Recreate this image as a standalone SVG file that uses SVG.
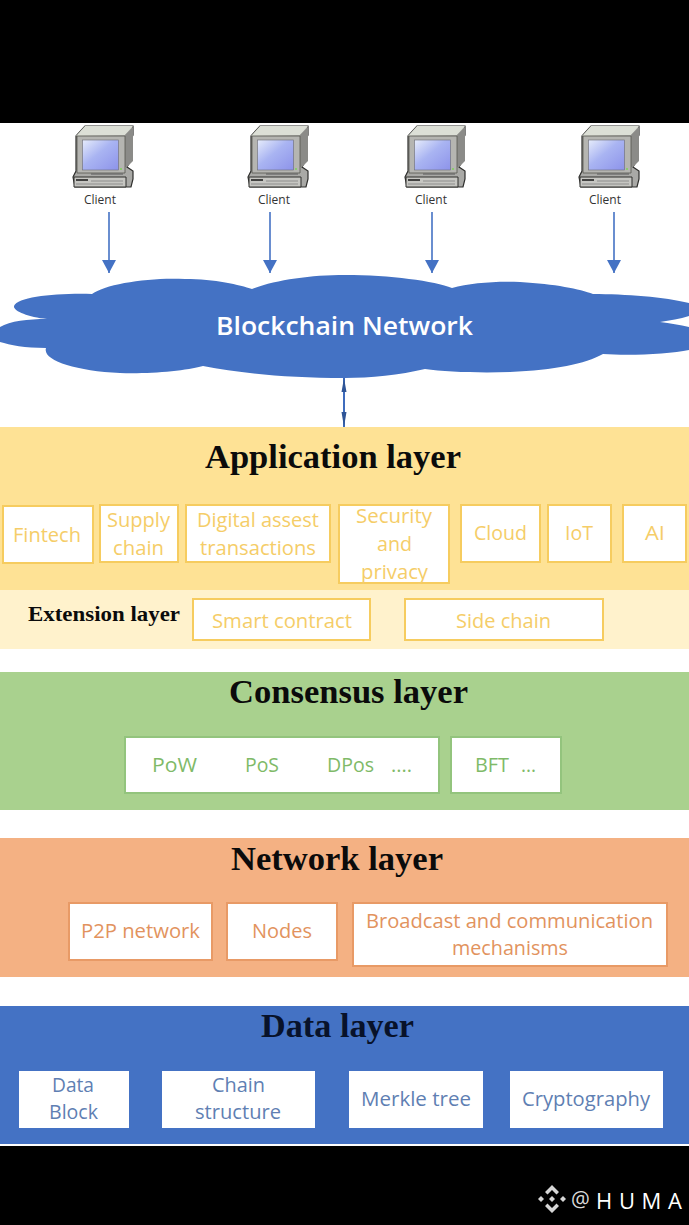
<svg xmlns="http://www.w3.org/2000/svg" xmlns:xlink="http://www.w3.org/1999/xlink" width="689" height="1225" viewBox="0 0 689 1225">
<style>
text{font-family:"Open Sans","Liberation Sans",sans-serif}
.title{font-family:"Liberation Serif",serif;font-weight:700;fill:#0b0b0b;font-size:33px}
.box{fill:#fff;stroke-width:2}
.y .box{stroke:#f6cc5f}.y .t{fill:#f5cd68}
.g .box{stroke:#93c47d}.g .t{fill:#7fba68}
.o .box{stroke:#e89a66}.o .t{fill:#e2935e}
.b .box{stroke:#fff}.b .t{fill:#5f7fb3}
.t{font-size:20px}
.client{font-size:12px;fill:#333}
.wire{stroke:#4472c4;stroke-width:1.6;fill:none}
</style>
<defs>
<linearGradient id="scr" x1="0" y1="0" x2="1" y2="1"><stop offset="0" stop-color="#e6ecfb"/><stop offset=".45" stop-color="#a9b4f2"/><stop offset="1" stop-color="#8d93ea"/></linearGradient>
<marker id="ah" markerUnits="userSpaceOnUse" markerWidth="14" markerHeight="14" refX="13" refY="7" orient="auto" viewBox="0 0 14 14"><path d="M0 0L13 7L0 14Z" fill="#4472c4"/></marker>
<g id="pc">
<path d="M0 52L3 46V11L12 1H60V10L58 14V35L54 42L60 46V54L58 62H2Z" fill="#a9a9a6" stroke="#2e2e2c" stroke-width="1.2"/>
<path d="M3 11L12 1H60L52 10Z" fill="#dcdfd6"/>
<path d="M52 10L60 2V36L54 42L52 42Z" fill="#8b8b88"/>
<path d="M4 11H52V48H4Z" fill="#b5b5b1" stroke="#55554f" stroke-width=".8"/>
<rect x="9.500" y="15" width="36" height="30" fill="url(#scr)" stroke="#6c6c74" stroke-width=".6"/>
<circle cx="48" cy="44" r="1" fill="#7ed35a"/>
<path d="M1 52H53V62H1Z" fill="#c6c6c2" stroke="#2e2e2c" stroke-width="1"/>
<path d="M3 55H15" stroke="#222" stroke-width="1.6"/>
<path d="M18 49H50" stroke="#666" stroke-width="1.200"/>
<path d="M18 56H50M3 59H50" stroke="#808080" stroke-width=".8"/>
</g>
</defs>
<rect width="689" height="1225" fill="#fff"/>
<rect width="689" height="123" fill="#000"/>
<rect y="1146" width="689" height="79" fill="#000"/>

<g id="client-1"><use xlink:href="#pc" href="#pc" x="73" y="125"/><text class="client" x="100" y="204" text-anchor="middle">Client</text></g>
<g id="client-2"><use xlink:href="#pc" href="#pc" x="248" y="125"/><text class="client" x="274" y="204" text-anchor="middle">Client</text></g>
<g id="client-3"><use xlink:href="#pc" href="#pc" x="405" y="125"/><text class="client" x="431" y="204" text-anchor="middle">Client</text></g>
<g id="client-4"><use xlink:href="#pc" href="#pc" x="579" y="125"/><text class="client" x="605" y="204" text-anchor="middle">Client</text></g>

<g id="blockchain-network">
<path fill="#4472c4" d="M0 327C10 321 28 319 47 319C28 317 13 311 14 306C18 297 55 293 92 294C105 284 150 277 185 279C215 279 240 285 252 289C275 280 310 275 345 275C390 275 435 281 452 288C470 283 495 281 520 282C555 284 580 289 593 294C625 294 665 297 689 303V316C680 319 670 320 660 322C670 323 680 325 689 327V350C670 354 630 356 603 354C585 364 555 370 510 372C480 373 445 372 425 369C400 375 370 378 345 378C285 378 240 373 203 366C185 371 150 374 120 373C75 371 42 360 46 348C25 348 10 345 0 342Z"/>
<text x="216" y="335" textLength="257" lengthAdjust="spacingAndGlyphs" font-size="26" font-weight="600" fill="#fff">Blockchain Network</text>
</g>

<g id="application-layer" class="y">
<rect y="427" width="689" height="163" fill="#fee295"/>
<text class="title" x="205" y="468" textLength="256" lengthAdjust="spacingAndGlyphs">Application layer</text>
<g id="fintech"><rect class="box" x="3" y="506" width="90" height="57"/><text class="t" x="13" y="542" textLength="68" lengthAdjust="spacingAndGlyphs">Fintech</text></g>
<g id="supply-chain"><rect class="box" x="100" y="505" width="78" height="57"/><text class="t" x="107" y="527" textLength="63" lengthAdjust="spacingAndGlyphs">Supply</text><text class="t" x="113" y="555" textLength="51" lengthAdjust="spacingAndGlyphs">chain</text></g>
<g id="digital-assest"><rect class="box" x="186" y="505" width="144" height="57"/><text class="t" x="197" y="527" textLength="122" lengthAdjust="spacingAndGlyphs">Digital assest</text><text class="t" x="200" y="555" textLength="116" lengthAdjust="spacingAndGlyphs">transactions</text></g>
<g id="security"><rect class="box" x="339" y="505" width="110" height="78"/><text class="t" x="356" y="523" textLength="76" lengthAdjust="spacingAndGlyphs">Security</text><text class="t" x="377" y="551" textLength="35" lengthAdjust="spacingAndGlyphs">and</text><text class="t" x="361" y="579" textLength="67" lengthAdjust="spacingAndGlyphs">privacy</text></g>
<g id="cloud"><rect class="box" x="461" y="505" width="79" height="57"/><text class="t" x="474" y="540" textLength="53" lengthAdjust="spacingAndGlyphs">Cloud</text></g>
<g id="iot"><rect class="box" x="548" y="505" width="63" height="57"/><text class="t" x="565" y="540" textLength="28" lengthAdjust="spacingAndGlyphs">IoT</text></g>
<g id="ai"><rect class="box" x="623" y="505" width="63" height="57"/><text class="t" x="645" y="540" textLength="20" lengthAdjust="spacingAndGlyphs">AI</text></g>
</g>

<g id="extension-layer" class="y">
<rect y="590" width="689" height="59" fill="#fff2cc"/>
<text class="title" style="font-size:21px" x="28" y="621" textLength="152" lengthAdjust="spacingAndGlyphs">Extension layer</text>
<g id="smart-contract"><rect class="box" x="193" y="599" width="177" height="41"/><text class="t" x="212" y="628" textLength="140" lengthAdjust="spacingAndGlyphs">Smart contract</text></g>
<g id="side-chain"><rect class="box" x="405" y="599" width="198" height="41"/><text class="t" x="456" y="628" textLength="95" lengthAdjust="spacingAndGlyphs">Side chain</text></g>
</g>

<g id="consensus-layer" class="g">
<rect y="672" width="689" height="138" fill="#a9d18e"/>
<text class="title" x="229" y="703" textLength="239" lengthAdjust="spacingAndGlyphs">Consensus layer</text>
<g id="pow-group"><rect class="box" x="125" y="737" width="314" height="56"/>
<text class="t" x="152" y="772" textLength="45" lengthAdjust="spacingAndGlyphs">PoW</text><text class="t" x="245" y="772" textLength="34" lengthAdjust="spacingAndGlyphs">PoS</text><text class="t" x="327" y="772" textLength="47" lengthAdjust="spacingAndGlyphs">DPos</text><text class="t" x="391" y="772" textLength="21" lengthAdjust="spacingAndGlyphs">....</text></g>
<g id="bft-group"><rect class="box" x="451" y="737" width="110" height="56"/><text class="t" x="475" y="772" textLength="34" lengthAdjust="spacingAndGlyphs">BFT</text><text class="t" x="521" y="772" textLength="15" lengthAdjust="spacingAndGlyphs">...</text></g>
</g>

<g id="network-layer" class="o">
<rect y="838" width="689" height="139" fill="#f4b183"/>
<text class="title" x="231" y="870" textLength="212" lengthAdjust="spacingAndGlyphs">Network layer</text>
<g id="p2p"><rect class="box" x="69" y="903" width="143" height="57"/><text class="t" x="81" y="938" textLength="119" lengthAdjust="spacingAndGlyphs">P2P network</text></g>
<g id="nodes"><rect class="box" x="227" y="903" width="110" height="57"/><text class="t" x="252" y="938" textLength="60" lengthAdjust="spacingAndGlyphs">Nodes</text></g>
<g id="broadcast"><rect class="box" x="353" y="903" width="314" height="63"/><text class="t" x="366" y="928" textLength="287" lengthAdjust="spacingAndGlyphs">Broadcast and communication</text><text class="t" x="452" y="955" textLength="116" lengthAdjust="spacingAndGlyphs">mechanisms</text></g>
</g>

<g id="data-layer" class="b">
<rect y="1006" width="689" height="138" fill="#4472c4"/>
<text class="title" x="261" y="1037" textLength="153" lengthAdjust="spacingAndGlyphs" style="fill:#08122a">Data layer</text>
<g id="data-block"><rect class="box" x="20" y="1072" width="108" height="55"/><text class="t" x="52" y="1092" textLength="42" lengthAdjust="spacingAndGlyphs">Data</text><text class="t" x="49" y="1119" textLength="49" lengthAdjust="spacingAndGlyphs">Block</text></g>
<g id="chain-structure"><rect class="box" x="163" y="1072" width="151" height="55"/><text class="t" x="212" y="1092" textLength="53" lengthAdjust="spacingAndGlyphs">Chain</text><text class="t" x="195" y="1119" textLength="86" lengthAdjust="spacingAndGlyphs">structure</text></g>
<g id="merkle-tree"><rect class="box" x="350" y="1072" width="132" height="55"/><text class="t" x="361" y="1106" textLength="110" lengthAdjust="spacingAndGlyphs">Merkle tree</text></g>
<g id="cryptography"><rect class="box" x="511" y="1072" width="151" height="55"/><text class="t" x="522" y="1106" textLength="128" lengthAdjust="spacingAndGlyphs">Cryptography</text></g>
</g>

<g id="connectors">
<path class="wire" d="M109 212V273" marker-end="url(#ah)"/>
<path class="wire" d="M270 212V273" marker-end="url(#ah)"/>
<path class="wire" d="M432 212V273" marker-end="url(#ah)"/>
<path class="wire" d="M614 212V273" marker-end="url(#ah)"/>
<path d="M344 378V427" stroke="#3f6cbd" stroke-width="2" fill="none"/>
<path d="M344 378L341.500 392H346.500ZM344 427L341.500 412H346.500Z" fill="#2f5597"/>
</g>

<g id="watermark">
<g fill="#d6d6d6">
<path d="M552 1185L559 1192L556.500 1194.500L552 1190L547.500 1194.500L545 1192Z"/>
<path d="M552 1213L559 1206L556.500 1203.500L552 1208L547.500 1203.500L545 1206Z"/>
<path d="M552 1196L555 1199L552 1202L549 1199Z"/>
<path d="M541 1196L544 1199L541 1202L538 1199Z"/>
<path d="M563 1196L566 1199L563 1202L560 1199Z"/>
</g>
<text x="571" y="1207" font-size="21" fill="#d9d9d9">@</text>
<text x="596" y="1209" font-size="22" fill="#fff" textLength="86" lengthAdjust="spacing">HUMA</text>
</g>
</svg>
